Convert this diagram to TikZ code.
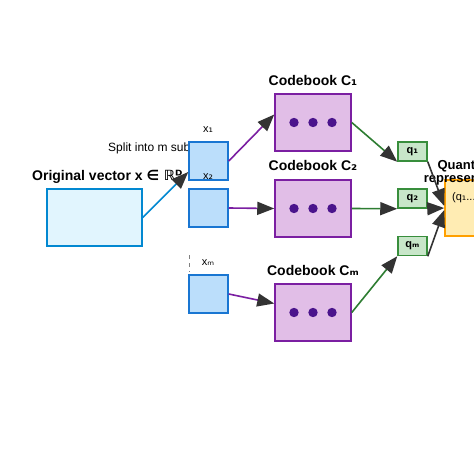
\documentclass[tikz,border=0pt]{standalone}
\usepackage{fontspec}
\setmainfont{Liberation Sans}
\newfontfamily\dvfont{DejaVu Sans}
\usetikzlibrary{arrows.meta}
\definecolor{origfill}{HTML}{E1F5FE}
\definecolor{origdraw}{HTML}{0288D1}
\definecolor{subfill}{HTML}{BBDEFB}
\definecolor{subdraw}{HTML}{1976D2}
\definecolor{cbfill}{HTML}{E1BEE7}
\definecolor{cbdraw}{HTML}{7B1FA2}
\definecolor{cbdot}{HTML}{4A148C}
\definecolor{qfill}{HTML}{C8E6C9}
\definecolor{qdraw}{HTML}{388E3C}
\definecolor{qline}{HTML}{2E7D32}
\definecolor{quantfill}{HTML}{FFECB3}
\definecolor{quantdraw}{HTML}{FFA000}
\definecolor{ahead}{HTML}{333333}
\newcommand{\dvs}[1]{{\dvfont #1}}
\begin{document}
\begin{tikzpicture}[x=1pt,y=-1pt,
  boxbase/.style={draw, line width=1.5pt, inner sep=0pt},
  origbox/.style={boxbase, draw=origdraw, fill=origfill, minimum width=95pt, minimum height=57pt},
  subbox/.style={boxbase, draw=subdraw, fill=subfill, minimum width=39pt, minimum height=38pt},
  cbbox/.style={boxbase, draw=cbdraw, fill=cbfill, minimum width=76pt, minimum height=57pt},
  qbox/.style={boxbase, draw=qdraw, fill=qfill, minimum width=29pt, minimum height=19pt, font=\fontsize{11}{12}\selectfont\bfseries},
  quantbox/.style={boxbase, draw=quantdraw, fill=quantfill, minimum width=52pt, minimum height=56pt},
  title/.style={inner sep=0pt, font=\fontsize{14}{16}\selectfont\bfseries},
  small/.style={inner sep=0pt, font=\fontsize{11}{13}\selectfont},
  arr/.style={line width=1.6pt, -{Triangle[length=17pt,width=13pt,color=ahead]}},
]
\fill[white] (0,0) rectangle (474,474);
\useasboundingbox (0,0) rectangle (474,474);
\clip (0,0) rectangle (474,474);

% texts under boxes
\node[inner sep=0pt, anchor=base west, font=\fontsize{12}{14}\selectfont] (split) at (108,151) {Split into m subvectors};
\node[title, anchor=base west] (origlab) at (32,180) {Original vector x \dvs{∈ ℝᴰ}};

% boxes
\node[origbox] (orig) at (94.5,217.5) {};
\node[subbox] (x1) at (208.5,161) {};
\node[subbox] (x2) at (208.5,208) {};
\node[subbox] (xm) at (208.5,294) {};
\node[cbbox] (C1) at (313,122.5) {};
\node[cbbox] (C2) at (313,208.5) {};
\node[cbbox] (Cm) at (313,312.5) {};
\node[qbox] (q1) at (412.5,151.5) {q\dvs{₁}};
\node[qbox] (q2) at (412.5,198.5) {q\dvs{₂}};
\node[qbox] (qm) at (412.5,246) {q\dvs{ₘ}};
\node[quantbox] (Q) at (471,208) {};

% dots in codebooks
\foreach \c in {C1,C2,Cm}{
  \foreach \dx in {-19,0,19}{
    \fill[cbdot] ([xshift=\dx pt]\c.center) circle (4.7pt);
  }
}

% labels
\node[small, anchor=base] (lx1) at (208,132) {x\dvs{₁}};
\node[small, anchor=base] (lx2) at (208,179) {x\dvs{₂}};
\node[small, anchor=base] (lxm) at (208,265) {x\dvs{ₘ}};
\node[title, anchor=base] (lC1) at (313,85) {Codebook C\dvs{₁}};
\node[title, anchor=base] (lC2) at (313,170.5) {Codebook C\dvs{₂}};
\node[title, anchor=base] (lCm) at (313,275) {Codebook C\dvs{ₘ}};
\node[inner sep=0pt, anchor=north, align=center, font=\fontsize{13}{12.5}\selectfont\bfseries] (Qlab) at (469,160) {Quantized\\representation};
\node[small, anchor=base west] (Qtxt) at (452,200) {(q\dvs{₁}...q\dvs{ₘ})};

% ellipsis
\draw[gray, line width=1pt, dash pattern=on 4pt off 4pt] (189,255) -- (189,272);

% connectors
\draw[arr, origdraw] (orig.east) -- ([yshift=-11pt]x1.west);
\draw[arr, cbdraw] (x1.east) -- ([yshift=8pt]C1.west);
\draw[arr, cbdraw] (x2.east) -- (C2.west);
\draw[arr, cbdraw] (xm.east) -- ([yshift=9pt]Cm.west);
\draw[arr, qline] (C1.east) -- (q1.south west);
\draw[arr, qline] (C2.east) -- (q2.south west);
\draw[arr, qline] (Cm.east) -- (qm.south west);
\draw[arr, ahead] (q1.south east) -- ([yshift=2pt]Q.west);
\draw[arr, ahead] (q2.south east) -- (Q.west);
\draw[arr, ahead] (qm.south east) -- ([yshift=-2pt]Q.west);
\end{tikzpicture}
\end{document}
